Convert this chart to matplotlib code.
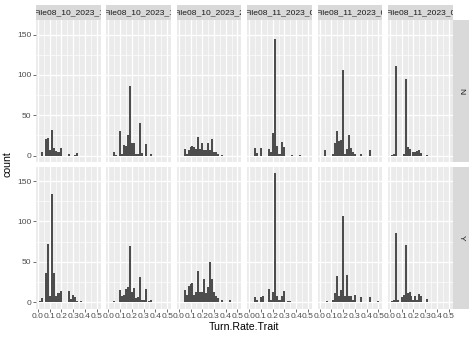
import numpy as np
import matplotlib
matplotlib.use("Agg")
import matplotlib.pyplot as plt

plt.rcParams['font.family'] = ['Liberation Sans', 'DejaVu Sans']

# histogram bins: 30 bins of width 1/60, centred on k/60
bin_width = 1 / 60
bin_centers = np.arange(1, 31) * bin_width

files = ["File08_10_2023_1", "File08_10_2023_1", "File08_10_2023_2",
         "File08_11_2023_0", "File08_11_2023_0", "File08_11_2023_0"]
traits = ["N", "Y"]

# counts per bin, one list per file (N row)
counts_N = [
    [0, 4, 0, 20, 22, 7, 32, 9, 6, 5, 5, 9, 0, 0, 0, 2, 0, 0, 1, 3, 0, 0, 0, 0, 0, 0, 0, 0, 0, 0],
    [0, 0, 4, 1, 0, 31, 2, 13, 12, 26, 86, 15, 15, 2, 2, 40, 3, 0, 14, 0, 0, 2, 0, 0, 0, 0, 0, 0, 0, 0],
    [0, 0, 8, 2, 7, 10, 12, 10, 8, 23, 8, 15, 7, 7, 15, 7, 20, 4, 4, 2, 0, 1, 0, 0, 0, 0, 0, 0, 0, 0],
    [0, 0, 9, 3, 0, 9, 0, 0, 0, 8, 5, 28, 144, 12, 2, 2, 17, 11, 0, 0, 0, 1, 0, 0, 0, 1, 0, 0, 0, 0],
    [0, 0, 7, 0, 0, 0, 2, 15, 31, 18, 19, 106, 2, 8, 25, 9, 5, 2, 0, 0, 2, 0, 0, 0, 0, 7, 0, 0, 0, 0],
    [1, 2, 111, 0, 0, 0, 2, 95, 11, 8, 0, 4, 5, 6, 7, 3, 0, 0, 1, 0, 0, 0, 0, 0, 0, 0, 0, 0, 0, 0],
]

# counts per bin, one list per file (Y row)
counts_Y = [
    [1, 5, 0, 36, 72, 7, 134, 36, 7, 11, 11, 14, 0, 0, 0, 14, 4, 9, 6, 1, 0, 1, 0, 0, 0, 0, 0, 0, 0, 0],
    [0, 0, 1, 0, 0, 15, 7, 9, 16, 19, 69, 13, 17, 5, 6, 31, 2, 2, 16, 0, 1, 2, 0, 0, 0, 0, 0, 0, 0, 0],
    [0, 0, 15, 9, 20, 22, 23, 9, 13, 39, 13, 13, 28, 11, 19, 50, 28, 12, 7, 5, 0, 2, 0, 0, 0, 2, 0, 0, 0, 0],
    [0, 0, 6, 2, 0, 6, 8, 0, 0, 16, 2, 12, 160, 7, 3, 3, 7, 14, 0, 1, 1, 0, 0, 0, 0, 0, 0, 0, 0, 0],
    [0, 0, 0, 1, 0, 0, 3, 11, 32, 7, 15, 107, 8, 34, 7, 8, 3, 9, 0, 0, 6, 0, 0, 0, 0, 6, 0, 0, 0, 1],
    [1, 3, 86, 2, 0, 6, 9, 71, 11, 13, 7, 3, 7, 3, 10, 8, 0, 0, 4, 0, 0, 0, 0, 0, 0, 0, 0, 0, 0, 0],
]

x_ticks = [0.0, 0.1, 0.2, 0.3, 0.4, 0.5]
x_labels = ["0.0", "0.1", "0.2", "0.3", "0.4", "0.5"]
y_ticks = [0, 50, 100, 150]

W, H = 474, 338
fig = plt.figure(figsize=(W / 100, H / 100), dpi=100)


def box(x, y, w, h):
    # pixel box (top-left origin) -> figure fraction
    return [x / W, 1 - (y + h) / H, w / W, h / H]


panel_w, pitch = 64.6, 70.4
row_tops = [20, 166.5]
row_h = 142
fs = 6.1

for r, (trait, rows) in enumerate(zip(traits, [counts_N, counts_Y])):
    for c, counts in enumerate(rows):
        left = 36 + c * pitch
        ax = fig.add_axes(box(left, row_tops[r], panel_w, row_h))
        ax.set_facecolor("#EBEBEB")
        counts = np.array(counts)
        keep = counts > 0
        ax.bar(bin_centers[keep], counts[keep], width=bin_width,
               color="#4D4D4D", linewidth=0, zorder=3)
        ax.set_xlim(-0.0167, 0.5333)
        ax.set_ylim(-8, 168)
        ax.set_xticks(x_ticks)
        ax.set_xticks(np.arange(0.05, 0.5, 0.1), minor=True)
        ax.set_yticks(y_ticks)
        ax.set_yticks([25, 75, 125], minor=True)
        ax.grid(which="major", color="white", lw=0.9, zorder=1)
        ax.grid(which="minor", color="white", lw=0.45, zorder=1)
        for s in ax.spines.values():
            s.set_visible(False)
        ax.tick_params(which="minor", length=0)
        ax.tick_params(which="major", length=2.2, width=0.5, color="#333333",
                       labelsize=fs, labelcolor="#4D4D4D", pad=1.2)
        if r == 0:
            ax.tick_params(axis="x", length=0, labelbottom=False)
        else:
            ax.set_xticklabels(x_labels)
        if c > 0:
            ax.tick_params(axis="y", length=0, labelleft=False)

        if r == 0:
            sax = fig.add_axes(box(left, 5, panel_w, 15))
            sax.set_facecolor("#D9D9D9")
            sax.set_xticks([])
            sax.set_yticks([])
            for s in sax.spines.values():
                s.set_visible(False)
            sax.text(0.5, 0.5, files[c], ha="center", va="center",
                     fontsize=fs, color="#1A1A1A", clip_on=True,
                     transform=sax.transAxes)

    rax = fig.add_axes(box(453, row_tops[r], 16, row_h))
    rax.set_facecolor("#D9D9D9")
    rax.set_xticks([])
    rax.set_yticks([])
    for s in rax.spines.values():
        s.set_visible(False)
    rax.text(0.5, 0.5, trait, ha="center", va="center", rotation=-90,
             fontsize=fs, color="#1A1A1A", transform=rax.transAxes)

fig.text(8 / W, 1 - 164 / H, "count", rotation=90, ha="center", va="center",
         fontsize=7.6, color="black")
fig.text(244 / W, 1 - 327 / H, "Turn.Rate.Trait", ha="center", va="center",
         fontsize=7.6, color="black")

fig.savefig("out.png", dpi=100)
